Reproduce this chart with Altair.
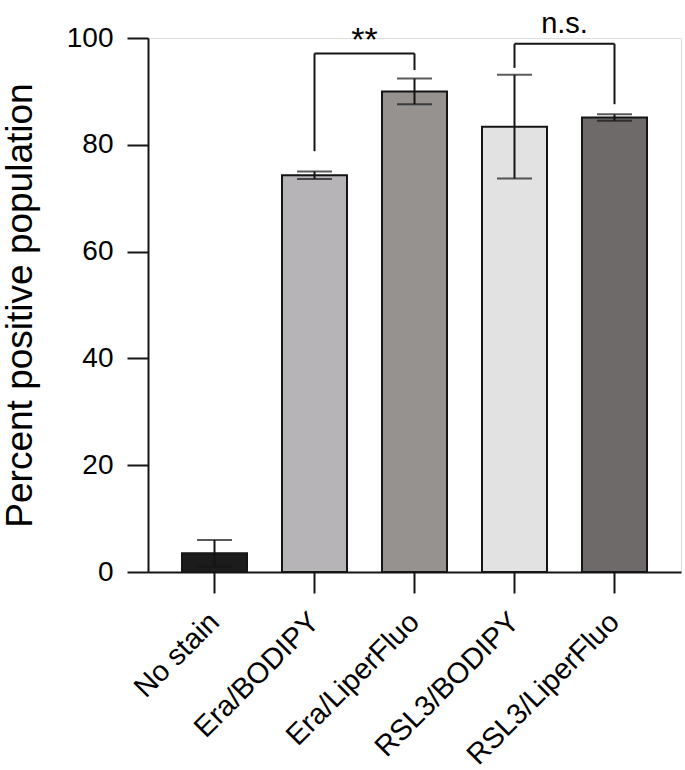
import altair as alt
import pandas as pd

# Groups, means and error (half-range) values
categories = ["No stain", "Era/BODIPY", "Era/LiperFluo", "RSL3/BODIPY", "RSL3/LiperFluo"]
means = [3.5, 74.3, 90.0, 83.4, 85.1]
errors = [2.5, 0.7, 2.4, 9.7, 0.6]
fills = ["#1c1c1c", "#b6b4b6", "#959290", "#e2e2e2", "#6e6a6a"]

# Significance brackets: left group, right group, top, left leg end, right leg end, label
bracket_left = ["Era/BODIPY", "RSL3/BODIPY"]
bracket_right = ["Era/LiperFluo", "RSL3/LiperFluo"]
bracket_top = [97.1, 98.9]
bracket_left_end = [78.8, 94.4]
bracket_right_end = [94.0, 87.6]
bracket_text = ["**", "n.s."]
bracket_text_y = [97.6, 100.9]
bracket_text_size = [34, 29]

FONT = "Liberation Sans"
INK = "#151515"

bars_df = pd.DataFrame({
    "group": categories,
    "mean": means,
    "lo": [m - e for m, e in zip(means, errors)],
    "hi": [m + e for m, e in zip(means, errors)],
})

x_scale = alt.Scale(domain=categories, paddingInner=0.35, paddingOuter=0.34)
x_enc = alt.X("group:N", scale=x_scale,
              axis=alt.Axis(title=None, labelAngle=-45, labelAlign="right",
                            labelBaseline="middle", labelFontSize=29, labelFont=FONT,
                            labelColor="#000", labelPadding=24, labelLimit=0,
                            tickSize=21, tickWidth=2, tickColor=INK,
                            domainWidth=2, domainColor=INK))
y_scale = alt.Scale(domain=[0, 100], nice=False)

bars = alt.Chart(bars_df).mark_bar(stroke=INK, strokeWidth=2).encode(
    x=x_enc,
    y=alt.Y("mean:Q", scale=y_scale,
            axis=alt.Axis(values=[0, 20, 40, 60, 80, 100], grid=False,
                          labelFontSize=28, labelFont=FONT, labelColor="#000",
                          labelPadding=14, tickSize=21, tickWidth=2,
                          tickColor=INK, domainWidth=2, domainColor=INK,
                          title="Percent positive population", titleFont=FONT,
                          titleFontSize=37, titleFontWeight="normal",
                          titleColor="#000", titleX=-128, titleY=267,
                          titleAngle=-90, titleAlign="center",
                          titleBaseline="middle")),
    color=alt.Color("group:N", scale=alt.Scale(domain=categories, range=fills),
                    legend=None),
)

err_line = alt.Chart(bars_df).mark_rule(color=INK, strokeWidth=2).encode(
    x=alt.X("group:N", scale=x_scale),
    y=alt.Y("lo:Q", scale=y_scale),
    y2="hi:Q",
)
cap_hi = alt.Chart(bars_df).mark_tick(color=INK, thickness=2, size=35,
                                      orient="horizontal").encode(
    x=alt.X("group:N", scale=x_scale),
    y=alt.Y("hi:Q", scale=y_scale),
)
cap_lo = alt.Chart(bars_df).mark_tick(color=INK, thickness=2, size=35,
                                      orient="horizontal").encode(
    x=alt.X("group:N", scale=x_scale),
    y=alt.Y("lo:Q", scale=y_scale),
)

br_df = pd.DataFrame({
    "left": bracket_left,
    "right": bracket_right,
    "top": bracket_top,
    "left_end": bracket_left_end,
    "right_end": bracket_right_end,
    "label": bracket_text,
    "label_y": bracket_text_y,
    "size": bracket_text_size,
})

br_h = alt.Chart(br_df).mark_rule(color=INK, strokeWidth=2).encode(
    x=alt.X("left:N", scale=x_scale),
    x2="right:N",
    y=alt.Y("top:Q", scale=y_scale),
)
br_l = alt.Chart(br_df).mark_rule(color=INK, strokeWidth=2).encode(
    x=alt.X("left:N", scale=x_scale),
    y=alt.Y("top:Q", scale=y_scale),
    y2="left_end:Q",
)
br_r = alt.Chart(br_df).mark_rule(color=INK, strokeWidth=2).encode(
    x=alt.X("right:N", scale=x_scale),
    y=alt.Y("top:Q", scale=y_scale),
    y2="right_end:Q",
)
# label sits midway between the two bracketed groups (one half-step right)
br_text = alt.Chart(br_df).mark_text(font=FONT, color="#000", baseline="alphabetic",
                                     align="center", dx=50).encode(
    x=alt.X("left:N", scale=x_scale),
    y=alt.Y("label_y:Q", scale=y_scale),
    text="label:N",
    size=alt.Size("size:Q", scale=None, legend=None),
)

chart = alt.layer(bars, err_line, cap_hi, cap_lo, br_h, br_l, br_r, br_text).properties(
    width=533, height=534,
    autosize=alt.AutoSizeParams(type="none"),
    padding={"left": 148, "top": 38, "right": 4, "bottom": 198},
).configure_view(stroke=None).configure(background="white")

chart.save("out.html", embed_options={"renderer": "svg", "actions": False})
